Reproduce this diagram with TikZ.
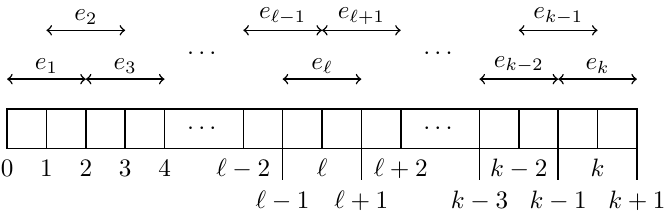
\documentclass[tikz,border=0pt]{standalone}
\usepackage{amsmath,amssymb}
\usepackage{tikz}
\usetikzlibrary{positioning}
\tikzset{
  span/.style={draw, <->, semithick},
  lbl/.style={above=-1.2pt},
  idx/.style={anchor=base, inner sep=0pt},
  gridline/.style={draw, semithick},
}

\begin{document}
\begin{tikzpicture}[x=0.55cm, y=0.55cm, >=to]
  \useasboundingbox (-0.18,-1.64) rectangle (16.84,3.77);

  % Cells
  \draw[gridline] (0,0) rectangle (16,1);
  \foreach \i in {1,2,3,4,6,7,8,9,10,12,13,14,15}
    \draw[gridline] (\i,0) -- (\i,1);
  \node (gdotsA) at (5,0.5) {$\cdots$};
  \node (gdotsB) at (11,0.5) {$\cdots$};

  % Ticks
  \foreach \i in {7,9,12,14,16}
    \draw[gridline] (\i,0) -- (\i,-0.8);

  % Indices
  \foreach \i in {0,...,4}
    \node[idx] (n\i) at (\i,-0.72) {$\i$};
  \node[idx] (lm2) at (6,-0.72) {$\ell-2$};
  \node[idx] (l0)  at (8,-0.72) {$\ell$};
  \node[idx] (lp2) at (10,-0.72) {$\ell+2$};
  \node[idx] (km2) at (13,-0.72) {$k-2$};
  \node[idx] (k0)  at (15,-0.72) {$k$};
  \node[idx] (lm1) at (7,-1.52) {$\ell-1$};
  \node[idx] (lp1) at (9,-1.52) {$\ell+1$};
  \node[idx] (km3) at (12,-1.52) {$k-3$};
  \node[idx] (km1) at (14,-1.52) {$k-1$};
  \node[idx] (kp1) at (16,-1.52) {$k+1$};

  % Arrow ends
  \coordinate (p0)  at (0,1.76);
  \coordinate (p2)  at (2,1.76);
  \coordinate (p4)  at (4,1.76);
  \coordinate (p7)  at (7,1.76);
  \coordinate (p9)  at (9,1.76);
  \coordinate (p12) at (12,1.76);
  \coordinate (p14) at (14,1.76);
  \coordinate (p16) at (16,1.76);
  \coordinate (q1)  at (1,3);
  \coordinate (q3)  at (3,3);
  \coordinate (q6)  at (6,3);
  \coordinate (q8)  at (8,3);
  \coordinate (q10) at (10,3);
  \coordinate (q13) at (13,3);
  \coordinate (q15) at (15,3);

  % Edges
  \draw[span] (p0) -- node[lbl] (e1) {$e_1$} (p2);
  \draw[span] (p2) -- node[lbl] (e3) {$e_3$} (p4);
  \draw[span] (q1) -- node[lbl] (e2) {$e_2$} (q3);
  \draw[span] (q6) -- node[lbl] (elm1) {$e_{\ell-1}$} (q8);
  \draw[span] (q8) -- node[lbl] (elp1) {$e_{\ell+1}$} (q10);
  \draw[span] (p7) -- node[lbl] (el) {$e_\ell$} (p9);
  \draw[span] (p12) -- node[lbl] (ekm2) {$e_{k-2}$} (p14);
  \draw[span] (p14) -- node[lbl] (ek) {$e_k$} (p16);
  \draw[span] (q13) -- node[lbl] (ekm1) {$e_{k-1}$} (q15);
  \node (tdotsA) at (5,2.39) {$\cdots$};
  \node (tdotsB) at (11,2.39) {$\cdots$};
\end{tikzpicture}
\end{document}
